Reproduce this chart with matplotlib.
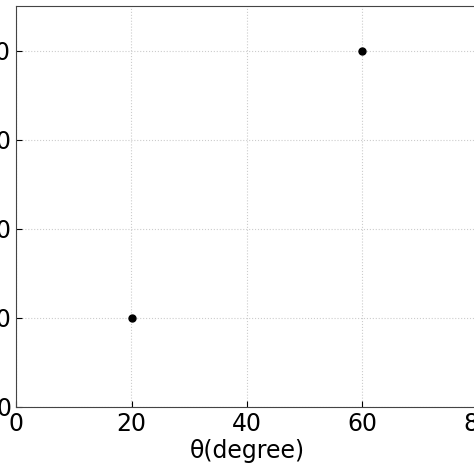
import matplotlib
matplotlib.use("Agg")
import matplotlib.pyplot as plt

theta = [20, 60]
vals = [100, 400]
xticks = [0, 20, 40, 60, 80]
yticks = [0, 100, 200, 300, 400]

fig = plt.figure(figsize=(4.74, 4.74), dpi=100)
ax = fig.add_axes([16/474, 1-407/474, 462/474, 401/474])
ax.plot(theta, vals, 'o', color='black', markersize=5)
ax.set_xlim(0, 80)
ax.set_ylim(0, 450)
ax.set_xticks(xticks)
ax.set_yticks(yticks)
ax.tick_params(labelsize=17, direction='in', length=4)
ax.grid(True, color='#cccccc', linestyle=':', linewidth=0.8)
for s in ax.spines.values():
    s.set_color('#444444')
ax.set_xlabel('θ(degree)', fontsize=17, labelpad=2)
fig.savefig('out.png', dpi=100)
